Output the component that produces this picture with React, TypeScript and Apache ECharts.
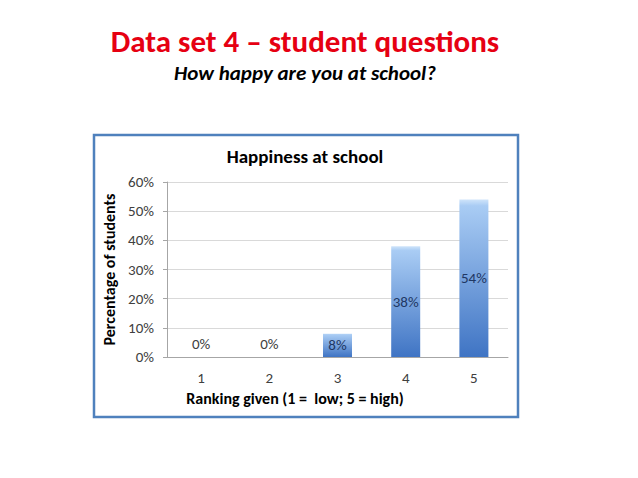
import React, { useEffect, useRef } from "react";
import * as echarts from "echarts";

const categories: string[] = ["1", "2", "3", "4", "5"];
const percentages: number[] = [0, 0, 8, 38, 54];
const yTicks = { min: 0, max: 60, interval: 10 };

const FONT = "Carlito, Lato, 'Liberation Sans', sans-serif";

export default function App() {
  const ref = useRef<HTMLDivElement>(null);

  useEffect(() => {
    if (!ref.current) return;
    const chart = echarts.init(ref.current, null, { renderer: "svg" });
    const barGradient = new echarts.graphic.LinearGradient(0, 0, 0, 1, [
      { offset: 0, color: "#CFE4FA" },
      { offset: 0.04, color: "#A9CCF4" },
      { offset: 1, color: "#3F74C4" },
    ]);
    chart.setOption({
      animation: false,
      backgroundColor: "#ffffff",
      textStyle: { fontFamily: FONT },
      graphic: [
        {
          type: "rect",
          shape: { x: 94, y: 135, width: 424, height: 282 },
          style: { fill: "none", stroke: "#4F81BD", lineWidth: 2.5 },
          z: 0,
        },
        {
          type: "text",
          x: 305,
          y: 41,
          style: {
            text: "Data set 4 – student questions",
            fill: "#E60012",
            font: `bold 31px ${FONT}`,
            textAlign: "center",
            textVerticalAlign: "middle",
          },
        },
        {
          type: "text",
          x: 305,
          y: 73,
          style: {
            text: "How happy are you at school?",
            fill: "#000000",
            font: `italic bold 21px ${FONT}`,
            textAlign: "center",
            textVerticalAlign: "middle",
          },
        },
        {
          type: "text",
          x: 305,
          y: 156,
          style: {
            text: "Happiness at school",
            fill: "#000000",
            font: `bold 19px ${FONT}`,
            textAlign: "center",
            textVerticalAlign: "middle",
          },
        },
        {
          type: "text",
          x: 295,
          y: 398,
          style: {
            text: "Ranking given (1 =  low; 5 = high)",
            fill: "#000000",
            font: `bold 16px ${FONT}`,
            textAlign: "center",
            textVerticalAlign: "middle",
          },
        },
      ],
      grid: { left: 167, right: 130, top: 182, bottom: 121, containLabel: false },
      xAxis: {
        type: "category",
        data: categories,
        axisLine: { lineStyle: { color: "#A6A6A6" } },
        axisTick: { show: false },
        axisLabel: { color: "#404040", fontSize: 15, margin: 13, fontFamily: FONT },
      },
      yAxis: {
        type: "value",
        min: yTicks.min,
        max: yTicks.max,
        interval: yTicks.interval,
        name: "Percentage of students",
        nameLocation: "middle",
        nameGap: 43,
        nameRotate: 90,
        nameTextStyle: { color: "#000000", fontSize: 16, fontWeight: "bold", fontFamily: FONT },
        axisLine: { show: true, lineStyle: { color: "#A6A6A6" } },
        axisTick: { show: true, length: 4, lineStyle: { color: "#A6A6A6" } },
        axisLabel: { color: "#404040", fontSize: 15, margin: 13, formatter: "{value}%", fontFamily: FONT },
        splitLine: { lineStyle: { color: "#D9D9D9" } },
      },
      series: [
        {
          type: "bar",
          barWidth: 29,
          data: percentages.map((v) => ({
            value: v,
            label:
              v === 0
                ? { position: "top", distance: 6, color: "#404040" }
                : { position: "inside", color: "#1F3864" },
          })),
          itemStyle: { color: barGradient },
          label: {
            show: true,
            fontSize: 15,
            fontFamily: FONT,
            formatter: "{c}%",
          },
        },
      ],
    });
    return () => chart.dispose();
  }, []);

  return (
    <div
      ref={ref}
      style={{ position: "absolute", left: 0, top: 0, width: 638, height: 478, background: "#fff" }}
    />
  );
}
